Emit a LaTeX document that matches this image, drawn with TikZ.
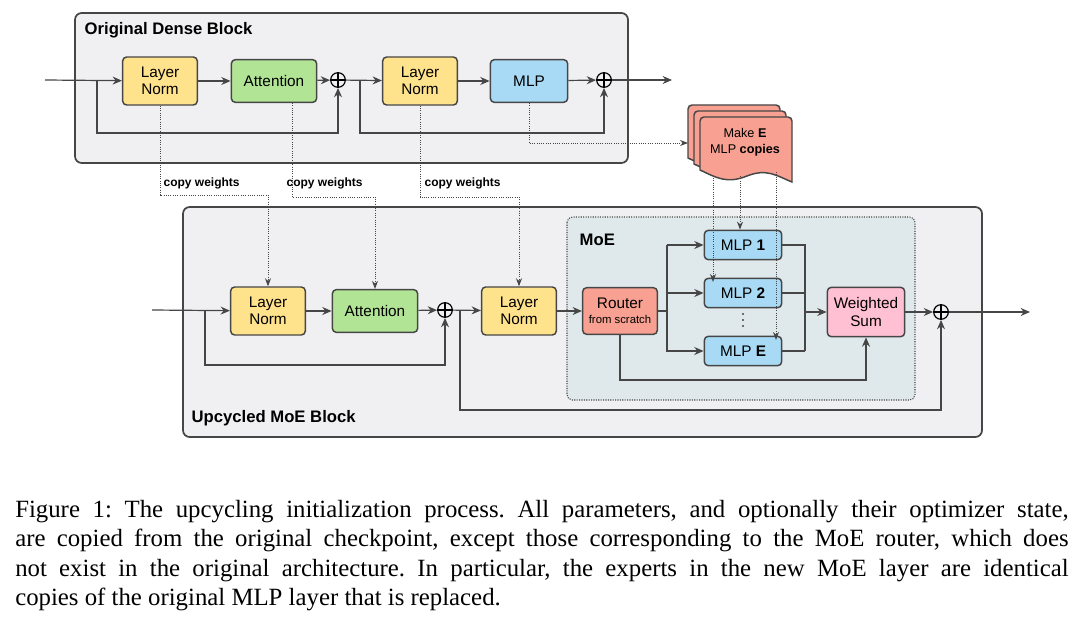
\documentclass[tikz,border=0pt]{standalone}
\usepackage{fontspec}
\setmainfont{Liberation Serif}
\newfontfamily\diagfont{Liberation Sans}
\usetikzlibrary{arrows.meta,positioning}
\definecolor{lncol}{RGB}{255,226,140}
\definecolor{attcol}{RGB}{178,228,150}
\definecolor{mlpcol}{RGB}{168,218,245}
\definecolor{routcol}{RGB}{248,160,145}
\definecolor{sumcol}{RGB}{255,192,212}
\definecolor{blockcol}{RGB}{240,240,242}
\definecolor{moecol}{RGB}{223,233,236}
\definecolor{edgecol}{RGB}{70,70,70}
\begin{document}
\begin{tikzpicture}[x=0.75pt,y=-0.75pt,
  every node/.style={font=\diagfont},
  box/.style={rectangle, rounded corners=3pt, draw=edgecol, line width=1.1pt, align=center, font=\diagfont\fontsize{11.5}{13}\selectfont, inner sep=1pt},
  lnnode/.style={box, fill=lncol, minimum width=56pt, minimum height=36pt},
  attnode/.style={box, fill=attcol, minimum width=64pt, minimum height=32pt},
  mlpnode/.style={box, fill=mlpcol, minimum width=58pt, minimum height=32pt},
  expnode/.style={box, fill=mlpcol, minimum width=58pt, minimum height=22pt},
  plusnode/.style={circle, draw=black, line width=0.9pt, minimum size=11pt, inner sep=0pt,
    path picture={\draw[line width=0.9pt] (path picture bounding box.north) -- (path picture bounding box.south)
      (path picture bounding box.west) -- (path picture bounding box.east);}},
  flow/.style={draw=edgecol, line width=0.9pt, -{Stealth[length=7pt,width=6pt]}},
  line/.style={draw=edgecol, line width=0.9pt},
  copyline/.style={draw=edgecol, line width=0.7pt, densely dotted},
  copylabel/.style={font=\diagfont\bfseries\fontsize{9}{10}\selectfont, anchor=west, inner sep=1pt},
  blocktitle/.style={font=\diagfont\bfseries\fontsize{12.5}{14}\selectfont, anchor=west},
]
\useasboundingbox (0,0) rectangle (1080,624);

%Blocks
\draw[fill=blockcol, draw=edgecol, line width=1.3pt, rounded corners=5pt] (75,13) rectangle (628,163);
\node[blocktitle] (dtitle) at (80,30) {Original Dense Block};
\draw[fill=blockcol, draw=edgecol, line width=1.3pt, rounded corners=5pt] (183,207) rectangle (982,437);
\node[blocktitle] (utitle) at (187,418) {Upcycled MoE Block};
\draw[fill=moecol, draw=edgecol, line width=0.8pt, densely dotted, rounded corners=4pt] (567,217) rectangle (915,400);
\node[blocktitle] (moetitle) at (575,240) {MoE};

%Dense nodes
\coordinate (din) at (45,80);
\node[lnnode] (ln1) at (160,81) {Layer\\Norm};
\node[attnode] (att1) at (274,81) {Attention};
\node[plusnode] (p1) at (338,80) {};
\node[lnnode] (ln2) at (420,81) {Layer\\Norm};
\node[mlpnode] (mlp) at (529,81) {MLP};
\node[plusnode] (p2) at (604,80) {};
\coordinate (dout) at (672,80);

%Copies
\foreach \d in {-12,-6,0}{
\draw[fill=routcol, draw=edgecol, line width=1.1pt, rounded corners=3pt, shift={(\d,\d)}]
  (700,125) -- (700,117) -- (792,117) -- (792,130) [sharp corners] -- (792,182)
  .. controls (777,176) and (767,168) .. (747,176) .. controls (727,184) and (717,178) .. (700,170) -- cycle;}
\node[font=\diagfont\fontsize{9.5}{12}\selectfont, align=center] (copies) at (745,142) {Make \textbf{E}\\MLP \textbf{copies}};

%Upcycled nodes
\coordinate (uin) at (152,310);
\node[lnnode] (ln3) at (268,311) {Layer\\Norm};
\node[attnode] (att2) at (375,311) {Attention};
\node[plusnode] (p3) at (445,310) {};
\node[lnnode] (ln4) at (519,311) {Layer\\Norm};
\node[box, fill=routcol, minimum width=56pt, minimum height=35pt] (router) at (620,311) {Router\\[-2pt]{\fontsize{8.5}{10}\selectfont from scratch}};
\node[expnode] (e1) at (743,245) {MLP \textbf{1}};
\node[expnode] (e2) at (743,293) {MLP \textbf{2}};
\foreach \y in {314,320,326} \fill[edgecol] (743,\y) circle (0.9pt);
\node[expnode] (eE) at (743,351) {MLP \textbf{E}};
\node[box, fill=sumcol, minimum width=58pt, minimum height=37pt] (wsum) at (866,312) {Weighted\\Sum};
\node[plusnode] (p4) at (941,312) {};
\coordinate (uout) at (1030,312);

%Lines dense
\draw[flow] (din) -- (ln1);
\draw[flow] (ln1) -- (att1);
\draw[flow] (att1) -- (p1);
\draw[flow] (p1) -- (ln2);
\draw[flow] (ln2) -- (mlp);
\draw[flow] (mlp) -- (p2);
\draw[flow] (p2) -- (dout);
\draw[flow] (97,80) |- (338,133) -- (p1);
\draw[flow] (360,80) |- (604,133) -- (p2);
\draw[copyline, -{Stealth[length=6pt]}] (mlp.south) |- (688,143);

%Copy weights
\draw[copyline, -{Stealth[length=6pt]}] (ln1.south) |- (268,195) -- (ln3.north);
\draw[copyline, -{Stealth[length=6pt]}] (att1.south -| 292,0) |- (375,197) -- (att2.north);
\draw[copyline, -{Stealth[length=6pt]}] (ln2.south) |- (519,197) -- (ln4.north);
\node[copylabel] (cw1) at (162,183) {copy weights};
\node[copylabel] (cw2) at (285,183) {copy weights};
\node[copylabel] (cw3) at (423,183) {copy weights};

%Lines upcycled
\draw[flow] (uin) -- (ln3);
\draw[flow] (ln3) -- (att2);
\draw[flow] (att2) -- (p3);
\draw[flow] (p3) -- (ln4);
\draw[flow] (ln4) -- (router);
\draw[flow] (205,310) |- (445,365) -- (p3);
\draw[flow] (460,310) |- (941,410) -- (p4);
\draw[line] (router.east) -- (667,311);
\draw[flow] (667,245) |- (e1.west);
\draw[flow] (667,245) |- (e2.west);
\draw[flow] (667,245) |- (eE.west);
\draw[line] (e1.east) -| (805,351);
\draw[line] (e2.east) -- (805,293);
\draw[line] (eE.east) -- (805,351);
\draw[flow] (805,312) -- (wsum);
\draw[flow] (router.south) |- (866,380) -- (wsum.south);
\draw[flow] (wsum) -- (p4);
\draw[flow] (p4) -- (uout);

%Copies to experts
\draw[copyline, -{Stealth[length=6pt]}] (740,176) -- (e1.north -| 740,0);
\draw[copyline, -{Stealth[length=6pt]}] (713,178) -- (713,282);
\draw[copyline, -{Stealth[length=6pt]}] (776,172) -- (776,340);

%Caption
\node[anchor=north west, text width=790pt, align=justify, inner sep=0pt,
  font=\rmfamily\fontsize{18.6}{22}\selectfont\frenchspacing] (caption) at (15,500)
{Figure 1: The upcycling initialization process. All parameters, and optionally their optimizer state,\linebreak are copied from the original checkpoint, except those corresponding to the MoE router, which does\linebreak not exist in the original architecture. In particular, the experts in the new MoE layer are identical\linebreak copies of the original MLP layer that is replaced.};
\end{tikzpicture}
\end{document}
